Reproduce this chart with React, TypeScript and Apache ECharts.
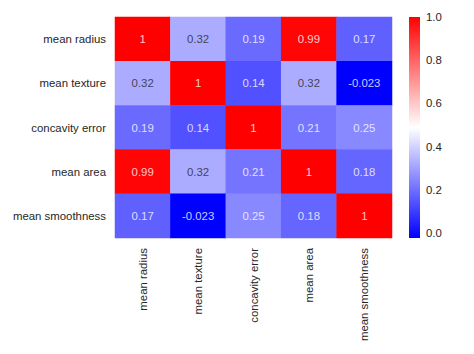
import React, { useEffect, useRef } from "react";
import * as echarts from "echarts";

const features = ["mean radius", "mean texture", "concavity error", "mean area", "mean smoothness"];
const matrix = [
  [1, 0.32, 0.19, 0.99, 0.17],
  [0.32, 1, 0.14, 0.32, -0.023],
  [0.19, 0.14, 1, 0.21, 0.25],
  [0.99, 0.32, 0.21, 1, 0.18],
  [0.17, -0.023, 0.25, 0.18, 1],
];
const vmin = -0.023;
const vmax = 1;
const colorbarTicks = [0, 0.2, 0.4, 0.6, 0.8, 1.0];

const FONT = "Liberation Sans, Arial, sans-serif";
const DARK = "#262626";
const LIGHT = "#fefefe";

function bwr(v: number): [number, number, number] {
  const t = (v - vmin) / (vmax - vmin);
  if (t <= 0.5) {
    const k = t / 0.5;
    return [255 * k, 255 * k, 255];
  }
  const k = (t - 0.5) / 0.5;
  return [255, 255 * (1 - k), 255 * (1 - k)];
}

function lum(rgb: [number, number, number]): number {
  const lin = rgb.map((c) => {
    const s = c / 255;
    return s <= 0.03928 ? s / 12.92 : Math.pow((s + 0.055) / 1.055, 2.4);
  });
  return 0.2126 * lin[0] + 0.7152 * lin[1] + 0.0722 * lin[2];
}

export default function App() {
  const ref = useRef<HTMLDivElement>(null);
  useEffect(() => {
    if (!ref.current) return;
    const chart = echarts.init(ref.current, null, { renderer: "svg" });
    const data: any[] = [];
    const darkLabels: any[] = [];
    const lightLabels: any[] = [];
    matrix.forEach((row, r) =>
      row.forEach((v, c) => {
        data.push([c, r, v]);
        if (lum(bwr(v)) > 0.408) darkLabels.push([c, r, v]);
        else lightLabels.push([c, r, v]);
      })
    );
    const labelSeries = (arr: any[], color: string) => ({
      type: "scatter",
      xAxisIndex: 0,
      yAxisIndex: 0,
      data: arr,
      symbolSize: 1,
      itemStyle: { color: "rgba(0,0,0,0)" },
      label: {
        show: true,
        position: "inside",
        color,
        fontSize: 11.4,
        fontFamily: FONT,
        formatter: (p: any) => String(p.value[2]),
      },
    });
    chart.setOption({
      animation: false,
      textStyle: { fontFamily: FONT },
      grid: [
        { left: 115, top: 17, width: 277, height: 221 },
        { left: 409, top: 17, width: 11, height: 221 },
      ],
      xAxis: [
        {
          type: "category",
          gridIndex: 0,
          data: features,
          axisLine: { show: false },
          axisTick: { show: false },
          splitLine: { show: false },
          axisLabel: { rotate: 90, color: DARK, fontSize: 11.4, fontFamily: FONT, margin: 10 },
        },
        {
          type: "value",
          gridIndex: 1,
          min: 0,
          max: 1,
          show: false,
        },
      ],
      yAxis: [
        {
          type: "category",
          gridIndex: 0,
          data: features,
          inverse: true,
          axisLine: { show: false },
          axisTick: { show: false },
          splitLine: { show: false },
          axisLabel: { color: DARK, fontSize: 11.4, fontFamily: FONT, margin: 9 },
        },
        {
          type: "value",
          gridIndex: 1,
          position: "right",
          min: vmin,
          max: vmax,
          axisLine: { show: false },
          splitLine: { show: false },
          axisTick: {
            show: true,
            length: 4,
            lineStyle: { color: DARK, width: 1 },
            customValues: colorbarTicks,
          },
          axisLabel: {
            color: DARK,
            fontSize: 11.4,
            fontFamily: FONT,
            margin: 6,
            customValues: colorbarTicks,
            formatter: (v: number) => v.toFixed(1),
          },
        },
      ],
      visualMap: {
        show: false,
        type: "continuous",
        min: vmin,
        max: vmax,
        dimension: 2,
        seriesIndex: 0,
        inRange: { color: ["#0000ff", "#ffffff", "#ff0000"] },
      },
      series: [
        {
          type: "heatmap",
          xAxisIndex: 0,
          yAxisIndex: 0,
          data,
          label: { show: false },
          itemStyle: { borderWidth: 0 },
        },
        {
          type: "custom",
          xAxisIndex: 1,
          yAxisIndex: 1,
          data: [[0.5, 0.5]],
          renderItem: (params: any, api: any) => {
            const top = api.coord([0, vmax]);
            const bottom = api.coord([1, vmin]);
            return {
              type: "rect",
              shape: { x: top[0], y: top[1], width: bottom[0] - top[0], height: bottom[1] - top[1] },
              style: {
                fill: new echarts.graphic.LinearGradient(0, 0, 0, 1, [
                  { offset: 0, color: "#ff0000" },
                  { offset: 0.5, color: "#ffffff" },
                  { offset: 1, color: "#0000ff" },
                ]),
              },
            };
          },
        },
        labelSeries(darkLabels, DARK),
        labelSeries(lightLabels, LIGHT),
      ],
    });
    return () => chart.dispose();
  }, []);
  return (
    <div
      ref={ref}
      style={{ position: "fixed", left: 0, top: 0, width: 474, height: 354, background: "#fff" }}
    />
  );
}
